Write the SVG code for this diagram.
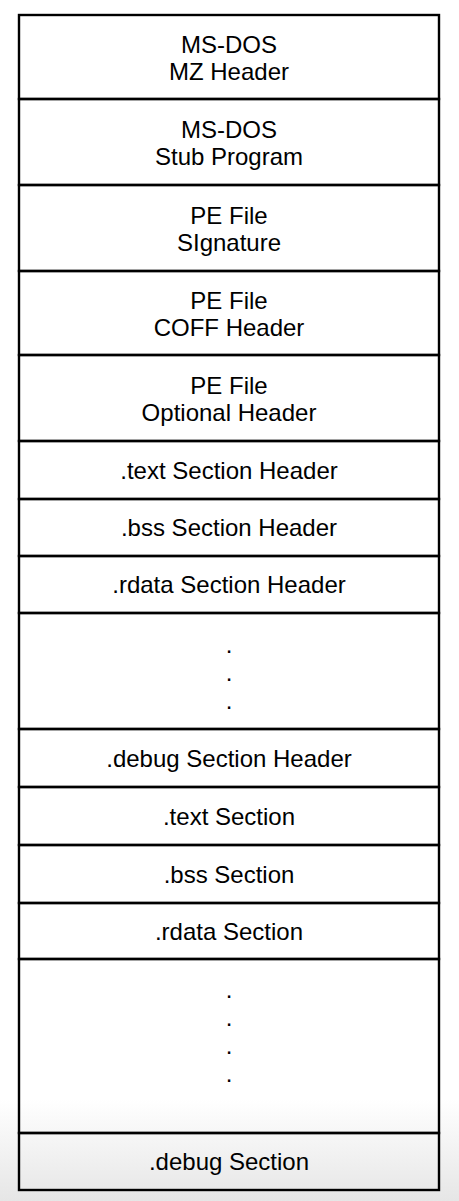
<svg xmlns="http://www.w3.org/2000/svg" width="459" height="1201" viewBox="0 0 459 1201">
<style>
.cell{fill:none;stroke:#000;stroke-width:2.4}
.t{font-family:"Liberation Sans",Arial,sans-serif;font-size:24px;fill:#000;text-anchor:middle}
</style>
<defs>
<linearGradient id="bg" x1="0" y1="0" x2="0" y2="1201" gradientUnits="userSpaceOnUse">
<stop offset="0" stop-color="#ffffff"/>
<stop offset="0.915" stop-color="#ffffff"/>
<stop offset="1" stop-color="#e6e6e6"/>
</linearGradient>
</defs>
<rect x="0" y="0" width="459" height="1201" fill="url(#bg)"/>
<g id="mz-header"><rect class="cell" x="19" y="15" width="420" height="84"/><text class="t" x="229" y="53">MS-DOS</text><text class="t" x="229" y="80">MZ Header</text></g>
<g id="stub-program"><rect class="cell" x="19" y="99" width="420" height="86"/><text class="t" x="229" y="138">MS-DOS</text><text class="t" x="229" y="165">Stub Program</text></g>
<g id="pe-signature"><rect class="cell" x="19" y="185" width="420" height="86"/><text class="t" x="229" y="224">PE File</text><text class="t" x="229" y="251">SIgnature</text></g>
<g id="coff-header"><rect class="cell" x="19" y="271" width="420" height="84"/><text class="t" x="229" y="309">PE File</text><text class="t" x="229" y="336">COFF Header</text></g>
<g id="optional-header"><rect class="cell" x="19" y="355" width="420" height="86"/><text class="t" x="229" y="394">PE File</text><text class="t" x="229" y="421">Optional Header</text></g>
<g id="text-section-header"><rect class="cell" x="19" y="441" width="420" height="58"/><text class="t" x="229" y="478.5">.text Section Header</text></g>
<g id="bss-section-header"><rect class="cell" x="19" y="499" width="420" height="57"/><text class="t" x="229" y="536">.bss Section Header</text></g>
<g id="rdata-section-header"><rect class="cell" x="19" y="556" width="420" height="57"/><text class="t" x="229" y="593">.rdata Section Header</text></g>
<g id="header-ellipsis"><rect class="cell" x="19" y="613" width="420" height="116"/><text class="t" x="229" y="653">.</text><text class="t" x="229" y="681">.</text><text class="t" x="229" y="709">.</text></g>
<g id="debug-section-header"><rect class="cell" x="19" y="729" width="420" height="58"/><text class="t" x="229" y="766.5">.debug Section Header</text></g>
<g id="text-section"><rect class="cell" x="19" y="787" width="420" height="58"/><text class="t" x="229" y="824.5">.text Section</text></g>
<g id="bss-section"><rect class="cell" x="19" y="845" width="420" height="58"/><text class="t" x="229" y="882.5">.bss Section</text></g>
<g id="rdata-section"><rect class="cell" x="19" y="903" width="420" height="56"/><text class="t" x="229" y="939.5">.rdata Section</text></g>
<g id="section-ellipsis"><rect class="cell" x="19" y="959" width="420" height="174"/><text class="t" x="229" y="998">.</text><text class="t" x="229" y="1026">.</text><text class="t" x="229" y="1054">.</text><text class="t" x="229" y="1082">.</text></g>
<g id="debug-section"><rect class="cell" x="19" y="1133" width="420" height="57"/><text class="t" x="229" y="1170">.debug Section</text></g>
<g id="connectors"></g>
</svg>
